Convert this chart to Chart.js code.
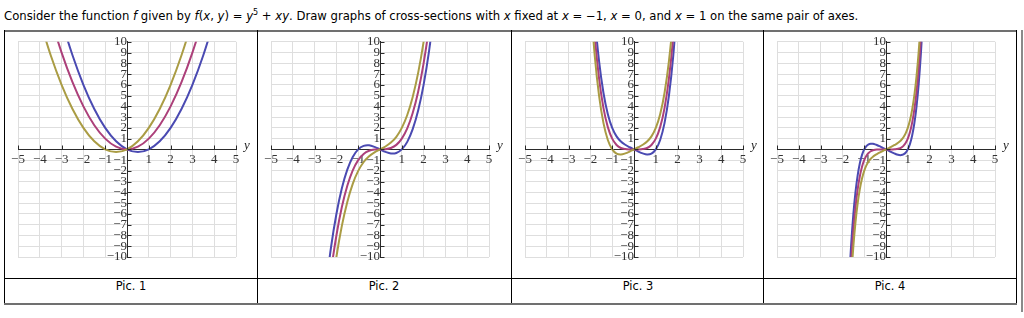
<!DOCTYPE html>
<html><head><meta charset="utf-8">
<script src="https://cdn.jsdelivr.net/npm/chart.js@4.4.0/dist/chart.umd.min.js"></script>
<style>
html,body{margin:0;padding:0;background:#fff;}
body{width:1024px;height:318px;position:relative;overflow:hidden;font-family:"DejaVu Sans",Verdana,sans-serif;font-size:11px;color:#000;}
#title{position:absolute;left:4px;top:6px;line-height:14px;white-space:nowrap;font-size:11.65px;}
.ln{position:absolute;background:#000;z-index:5;}
.g{background:#707070;}
canvas{position:absolute;top:31px;}
.pic{position:absolute;top:279px;line-height:14px;text-align:center;width:252px;font-size:11.4px;}
</style></head>
<body>
<div id="title">Consider the function <i>f</i> given by <i>f</i>(<i>x</i>, <i>y</i>) = <i>y</i><sup style="font-size:8px;vertical-align:5px;">5</sup> + <i>xy</i>. Draw graphs of cross-sections with <i>x</i> fixed at <i>x</i> = −1, <i>x</i> = 0, and <i>x</i> = 1 on the same pair of axes.</div>

<canvas id="c1" width="253" height="247" style="left:4px"></canvas>
<canvas id="c2" width="253" height="247" style="left:257px"></canvas>
<canvas id="c3" width="253" height="247" style="left:511px"></canvas>
<canvas id="c4" width="253" height="247" style="left:763px"></canvas>

<div class="ln g" style="left:4px;top:30px;width:1013px;height:2px"></div>
<div class="ln" style="left:4px;top:30px;width:1px;height:274px"></div>
<div class="ln" style="left:257px;top:30px;width:1px;height:274px"></div>
<div class="ln" style="left:511px;top:30px;width:1px;height:274px"></div>
<div class="ln" style="left:763px;top:30px;width:1px;height:274px"></div>
<div class="ln" style="left:1016px;top:30px;width:1px;height:274px"></div>
<div class="ln" style="left:4px;top:278px;width:1013px;height:1px"></div>
<div class="ln g" style="left:4px;top:303px;width:1013px;height:2px"></div>
<div class="ln g" style="left:1021px;top:30px;width:2px;height:282px;background:#8a8a8a"></div>

<div class="pic" style="left:5px">Pic. 1</div>
<div class="pic" style="left:258px">Pic. 2</div>
<div class="pic" style="left:512px">Pic. 3</div>
<div class="pic" style="left:764px">Pic. 4</div>

<script>
// ---- tick labels ----
const xTickLabels = ['−5','−4','−3','−2','−1','','1','2','3','4','5'];
const yTickLabels = ['−10','−9','−8','−7','−6','−5','−4','−3','−2','−1','','1','2','3','4','5','6','7','8','9','10'];
const seriesNames = ['x = −1','x = 0','x = 1'];

// ---- Pic. 1 : f = y^2 + x y ----
const p1Y   = [-4,-3.5,-3,-2.5,-2,-1.5,-1,-0.5,0,0.5,1,1.5,2,2.5,3,3.5,4];
const p1Xm1 = [20,15.75,12,8.75,6,3.75,2,0.75,0,-0.25,0,0.75,2,3.75,6,8.75,12];
const p1X0  = [16,12.25,9,6.25,4,2.25,1,0.25,0,0.25,1,2.25,4,6.25,9,12.25,16];
const p1X1  = [12,8.75,6,3.75,2,0.75,0,-0.25,0,0.75,2,3.75,6,8.75,12,15.75,20];

// ---- Pic. 2 : f = y^3 + x y ----
const p2Y   = [-2.5,-2.25,-2,-1.75,-1.5,-1.25,-1,-0.75,-0.5,-0.25,0,0.25,0.5,0.75,1,1.25,1.5,1.75,2,2.25,2.5];
const p2Xm1 = [-13.13,-9.14,-6,-3.61,-1.88,-0.70,0,0.33,0.38,0.23,0,-0.23,-0.38,-0.33,0,0.70,1.88,3.61,6,9.14,13.13];
const p2X0  = [-15.63,-11.39,-8,-5.36,-3.38,-1.95,-1,-0.42,-0.13,-0.02,0,0.02,0.13,0.42,1,1.95,3.38,5.36,8,11.39,15.63];
const p2X1  = [-18.13,-13.64,-10,-7.11,-4.88,-3.20,-2,-1.17,-0.63,-0.27,0,0.27,0.63,1.17,2,3.20,4.88,7.11,10,13.64,18.13];

// ---- Pic. 3 : f = y^4 + x y ----
const p3Y   = [-2,-1.8,-1.6,-1.4,-1.2,-1,-0.8,-0.6,-0.4,-0.2,0,0.2,0.4,0.6,0.8,1,1.2,1.4,1.6,1.8,2];
const p3Xm1 = [18,12.30,8.15,5.24,3.27,2,1.21,0.73,0.43,0.20,0,-0.20,-0.37,-0.47,-0.39,0,0.87,2.44,4.95,8.70,14];
const p3X0  = [16,10.50,6.55,3.84,2.07,1,0.41,0.13,0.03,0,0,0,0.03,0.13,0.41,1,2.07,3.84,6.55,10.50,16];
const p3X1  = [14,8.70,4.95,2.44,0.87,0,-0.39,-0.47,-0.37,-0.20,0,0.20,0.43,0.73,1.21,2,3.27,5.24,8.15,12.30,18];

// ---- Pic. 4 : f = y^5 + x y ----
const p4Y   = [-1.8,-1.7,-1.6,-1.5,-1.4,-1.3,-1.2,-1.1,-1,-0.9,-0.8,-0.7,-0.6,-0.5,-0.4,-0.3,-0.2,-0.1,0,0.1,0.2,0.3,0.4,0.5,0.6,0.7,0.8,0.9,1,1.1,1.2,1.3,1.4,1.5,1.6,1.7,1.8];
const p4Xm1 = [-17.10,-12.50,-8.89,-6.09,-3.98,-2.41,-1.29,-0.51,0,0.31,0.47,0.53,0.52,0.47,0.39,0.30,0.20,0.10,0,-0.10,-0.20,-0.30,-0.39,-0.47,-0.52,-0.53,-0.47,-0.31,0,0.51,1.29,2.41,3.98,6.09,8.89,12.50,17.10];
const p4X0  = [-18.90,-14.20,-10.49,-7.59,-5.38,-3.71,-2.49,-1.61,-1,-0.59,-0.33,-0.17,-0.08,-0.03,-0.01,0,0,0,0,0,0,0,0.01,0.03,0.08,0.17,0.33,0.59,1,1.61,2.49,3.71,5.38,7.59,10.49,14.20,18.90];
const p4X1  = [-20.70,-15.90,-12.09,-9.09,-6.78,-5.01,-3.69,-2.71,-2,-1.49,-1.13,-0.87,-0.68,-0.53,-0.41,-0.30,-0.20,-0.10,0,0.10,0.20,0.30,0.41,0.53,0.68,0.87,1.13,1.49,2,2.71,3.69,5.01,6.78,9.09,12.09,15.90,20.70];

// ---- styles ----
const COL_XM1 = 'rgb(74,74,178)';
const COL_X0  = 'rgb(172,64,122)';
const COL_X1  = 'rgb(170,156,68)';
const GRID = '#dedede';
const AXIS = '#2a2a2a';
const TICKFONT = {family:'Liberation Serif', size:13};

const axisExtras = {
  id:'axisExtras',
  afterDatasetsDraw(chart){
    const {ctx, scales:{x, y}} = chart;
    const x0 = Math.round(x.getPixelForValue(0)) + 0.5;
    const y0 = Math.round(y.getPixelForValue(0)) + 0.5;
    ctx.save();
    ctx.strokeStyle = AXIS; ctx.lineWidth = 1;
    ctx.beginPath();
    x.ticks.forEach(t => { const px = Math.round(x.getPixelForValue(t.value)) + 0.5; ctx.moveTo(px, y0); ctx.lineTo(px, y0 - 4); });
    y.ticks.forEach(t => { const py = Math.round(y.getPixelForValue(t.value)) + 0.5; ctx.moveTo(x0, py); ctx.lineTo(x0 + 4, py); });
    ctx.stroke();
    ctx.fillStyle = '#222';
    ctx.font = 'italic 13px Liberation Serif';
    ctx.textBaseline = 'alphabetic';
    ctx.fillText('y', x.getPixelForValue(5) + 8, y0 - 1);
    ctx.restore();
  }
};

function mk(id, ys, a, b, c){
  const pts = arr => ys.map((v, i) => ({x: v, y: arr[i]}));
  const ds = (label, arr, col, order) => ({label, data: pts(arr), borderColor: col, backgroundColor: col,
      borderWidth: 2, pointRadius: 0, showLine: true, tension: 0.35, fill: false, order});
  new Chart(document.getElementById(id), {
    type: 'scatter',
    data: { datasets: [ ds(seriesNames[0], a, COL_XM1, 2), ds(seriesNames[1], b, COL_X0, 1), ds(seriesNames[2], c, COL_X1, 0) ] },
    options: {
      responsive: false, animation: false, events: [],
      layout: {padding: {left: 14, right: 21, top: 8, bottom: 21}},
      plugins: {legend: {display: false}, tooltip: {enabled: false}},
      scales: {
        x: { type: 'linear', min: -5, max: 5, position: {y: 0},
             grid: {color: GRID, drawTicks: false},
             border: {display: true, color: AXIS, width: 1},
             ticks: {stepSize: 1, autoSkip: false, maxRotation: 0, padding: 2, color: '#333', font: TICKFONT,
                     callback: (v, i) => xTickLabels[i]} },
        y: { type: 'linear', min: -10, max: 10, position: {x: 0},
             grid: {color: GRID, drawTicks: false},
             border: {display: true, color: AXIS, width: 1},
             ticks: {stepSize: 1, autoSkip: false, padding: 3, color: '#333', font: TICKFONT,
                     callback: (v, i) => yTickLabels[i]} }
      }
    },
    plugins: [axisExtras]
  });
}
mk('c1', p1Y, p1Xm1, p1X0, p1X1);
mk('c2', p2Y, p2Xm1, p2X0, p2X1);
mk('c3', p3Y, p3Xm1, p3X0, p3X1);
mk('c4', p4Y, p4Xm1, p4X0, p4X1);
</script>
</body></html>
